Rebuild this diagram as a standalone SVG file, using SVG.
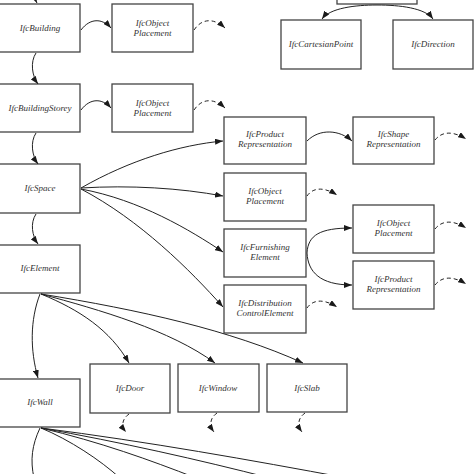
<svg xmlns="http://www.w3.org/2000/svg" width="474" height="474" viewBox="0 0 474 474">
<defs>
<marker id="ah" viewBox="0 0 8 6" refX="8" refY="3" markerWidth="8" markerHeight="6" markerUnits="userSpaceOnUse" orient="auto">
<path d="M0,0 L8,3 L0,6 z" fill="#1a1a1a"/>
</marker>
<style>
rect{fill:#fff;stroke:#444;stroke-width:1.3}
text{font-family:"Liberation Serif","Times New Roman",serif;font-style:italic;font-size:9px;fill:#333;text-anchor:middle}
.c path{fill:none;stroke:#222;stroke-width:1}
.c path.s{marker-end:url(#ah)}
.c path.d{stroke-dasharray:4 3;marker-end:url(#ah)}
.c path.n{marker-end:none}
</style>
</defs>
<rect x="0" y="0" width="474" height="474" style="fill:#fff;stroke:none"/>
<g id="top"><rect x="337" y="-6" width="80" height="10"/></g>
<g id="n-building"><rect x="-2" y="4" width="82" height="48"/><text x="40" y="31">IfcBuilding</text></g>
<g id="n-op1"><rect x="112" y="4" width="81" height="48"/><text x="152.5" y="26">IfcObject</text><text x="152.5" y="36">Placement</text></g>
<g id="n-storey"><rect x="-2" y="84" width="82" height="48"/><text x="40" y="111">IfcBuildingStorey</text></g>
<g id="n-op2"><rect x="112" y="84" width="81" height="48"/><text x="152.5" y="106">IfcObject</text><text x="152.5" y="116">Placement</text></g>
<g id="n-cart"><rect x="281" y="20" width="80" height="49"/><text x="321" y="47">IfcCartesianPoint</text></g>
<g id="n-dir"><rect x="393" y="20" width="80" height="49"/><text x="433" y="47">IfcDirection</text></g>
<g id="n-space"><rect x="-2" y="164" width="82" height="49"/><text x="40" y="191">IfcSpace</text></g>
<g id="n-element"><rect x="-2" y="245" width="82" height="48"/><text x="40" y="271">IfcElement</text></g>
<g id="n-wall"><rect x="-2" y="379" width="82" height="48"/><text x="40" y="405">IfcWall</text></g>
<g id="n-door"><rect x="90" y="364" width="80" height="49"/><text x="130" y="391">IfcDoor</text></g>
<g id="n-window"><rect x="178" y="364" width="81" height="48"/><text x="218" y="391">IfcWindow</text></g>
<g id="n-slab"><rect x="267" y="364" width="80" height="48"/><text x="307" y="391">IfcSlab</text></g>
<g id="n-prodrep"><rect x="224" y="117" width="82" height="47"/><text x="265" y="137">IfcProduct</text><text x="265" y="147">Representation</text></g>
<g id="n-shaperep"><rect x="353" y="117" width="81" height="47"/><text x="393.5" y="137">IfcShape</text><text x="393.5" y="147">Representation</text></g>
<g id="n-op3"><rect x="224" y="173" width="82" height="48"/><text x="265" y="194">IfcObject</text><text x="265" y="204">Placement</text></g>
<g id="n-furn"><rect x="224" y="229" width="82" height="48"/><text x="265" y="250">IfcFurnishing</text><text x="265" y="260">Element</text></g>
<g id="n-dist"><rect x="224" y="285" width="82" height="48"/><text x="265" y="306">IfcDistribution</text><text x="265" y="316">ControlElement</text></g>
<g id="n-op4"><rect x="353" y="205" width="81" height="48"/><text x="393.5" y="226">IfcObject</text><text x="393.5" y="236">Placement</text></g>
<g id="n-prodrep2"><rect x="353" y="261" width="81" height="48"/><text x="393.5" y="282">IfcProduct</text><text x="393.5" y="292">Representation</text></g>
<g id="connectors" class="c">
<path class="s" d="M34,-4 C35,0 36,1 37,3"/>
<path class="s" d="M377,5 C355,5 330,8 322,19"/>
<path class="s" d="M377,5 C400,5 425,8 433,19"/>
<path class="s" d="M81,30 C90,18 102,18 111,28"/>
<path class="d" d="M194,30 C202,18 214,18 225,28"/>
<path class="s" d="M36,53 C30,62 32,76 38,84"/>
<path class="s" d="M81,110 C90,98 102,98 111,108"/>
<path class="d" d="M194,110 C202,98 214,98 225,108"/>
<path class="s" d="M36,133 C30,142 32,156 38,164"/>
<path class="s" d="M81,188 C130,160 180,145 223,141"/>
<path class="s" d="M81,188 C130,185 180,188 223,196"/>
<path class="s" d="M81,189 C140,200 190,230 223,252"/>
<path class="s" d="M81,189 C140,220 190,270 223,307"/>
<path class="s" d="M307,141 C320,128 340,130 352,141"/>
<path class="d" d="M435,140 C443,130 455,132 466,139"/>
<path class="d" d="M307,196 C314,186 326,188 337,195"/>
<path class="s" d="M307,253 C308,235 320,228 352,228"/>
<path class="s" d="M307,253 C308,272 320,285 352,285"/>
<path class="d" d="M435,229 C443,219 455,221 466,228"/>
<path class="d" d="M435,285 C443,275 455,277 466,284"/>
<path class="d" d="M307,308 C314,298 326,300 337,307"/>
<path class="s" d="M36,214 C30,223 32,236 38,244"/>
<path class="s" d="M40,294 C30,320 30,350 38,378"/>
<path class="s" d="M41,294 C80,310 110,330 129,363"/>
<path class="s" d="M41,294 C100,310 170,330 215,363"/>
<path class="s" d="M41,294 C140,310 230,330 303,363"/>
<path class="d" d="M129,414 C122,419 121,426 126,432"/>
<path class="d" d="M217,413 C210,418 209,425 214,432"/>
<path class="d" d="M305,413 C298,418 297,425 302,432"/>
<path class="n" d="M40,428 C32,445 30,460 34,478"/>
<path class="n" d="M41,428 C70,440 100,460 120,478"/>
<path class="n" d="M41,428 C100,442 150,460 196,478"/>
<path class="n" d="M41,428 C120,442 200,460 270,478"/>
<path class="n" d="M41,428 C150,442 250,460 347,478"/>
</g>
</svg>
